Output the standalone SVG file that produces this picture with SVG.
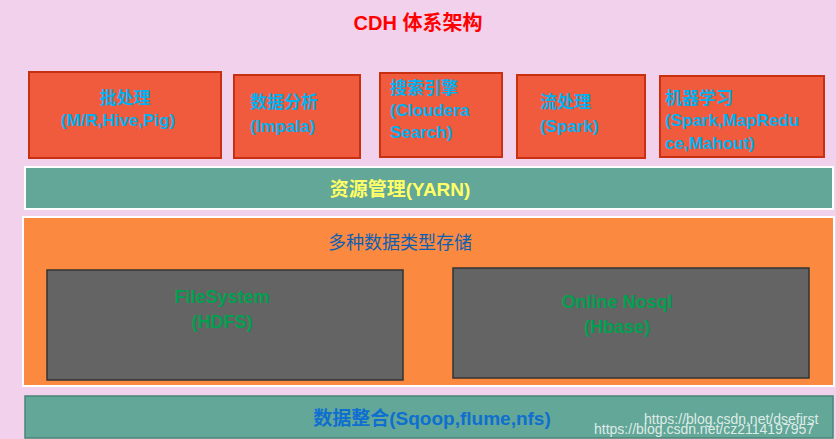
<svg xmlns="http://www.w3.org/2000/svg" width="836" height="439" viewBox="0 0 836 439">
<style>
.b{fill:#ef5b3c;stroke:#c8300f;stroke-width:2}
.bt{font-family:"Liberation Sans","Noto Sans CJK SC",sans-serif;font-size:17px;font-weight:bold;fill:#00b0f0}
.band{fill:#62a797;stroke:#fff;stroke-width:2}
.g{fill:#646464;stroke:#333;stroke-width:1.5}
.gt{font-family:"Liberation Sans","Noto Sans CJK SC",sans-serif;font-size:18px;font-weight:bold;fill:#00a050;text-anchor:middle}
.w{font-family:"Liberation Sans",sans-serif;font-size:14px;fill:#fff;fill-opacity:0.8}
</style>
<rect width="836" height="439" fill="#f2d1ec"/>
<text x="418" y="30" text-anchor="middle" font-family="Liberation Sans,Noto Sans CJK SC,sans-serif" font-size="20" font-weight="bold" fill="#ff0000">CDH 体系架构</text>
<g id="batch"><rect class="b" x="29" y="72" width="192" height="86"/><text class="bt" x="125" y="104" text-anchor="middle">批处理</text><text class="bt" x="118" y="126" text-anchor="middle">(M/R,Hive,Pig)</text></g>
<g id="analysis"><rect class="b" x="234" y="75" width="126" height="83"/><text class="bt" x="250" y="108">数据分析</text><text class="bt" x="250" y="132">(Impala)</text></g>
<g id="search"><rect class="b" x="380" y="73" width="122" height="84"/><text class="bt" x="390" y="94">搜索引擎</text><text class="bt" x="390" y="116">(Cloudera</text><text class="bt" x="390" y="138">Search)</text></g>
<g id="stream"><rect class="b" x="517" y="75" width="128" height="83"/><text class="bt" x="540" y="108">流处理</text><text class="bt" x="540" y="132">(Spark)</text></g>
<g id="ml"><rect class="b" x="660" y="76" width="164" height="81"/><text class="bt" x="665" y="104">机器学习</text><text class="bt" x="665" y="126">(Spark,MapRedu</text><text class="bt" x="665" y="149">ce,Mahout)</text></g>
<g id="yarn"><rect class="band" x="25" y="167" width="808" height="42"/><text x="400" y="196" text-anchor="middle" font-family="Liberation Sans,Noto Sans CJK SC,sans-serif" font-size="19" font-weight="bold" fill="#ffff66">资源管理(YARN)</text></g>
<g id="storage"><rect x="23" y="217" width="811" height="169" fill="#fb8a40" stroke="#fff" stroke-width="2"/><text x="400" y="249" text-anchor="middle" font-family="Liberation Sans,Noto Sans CJK SC,sans-serif" font-size="18" fill="#0f5fb0">多种数据类型存储</text>
<g id="hdfs"><rect class="g" x="47" y="270" width="356" height="110"/><text class="gt" x="222" y="303">FileSystem</text><text class="gt" x="222" y="328">(HDFS)</text></g>
<g id="hbase"><rect class="g" x="453" y="268" width="356" height="110"/><text class="gt" x="617" y="308">Online Nosql</text><text class="gt" x="617" y="333">(Hbase)</text></g></g>
<g id="integration"><rect x="25" y="396" width="808" height="42" fill="#62a797" stroke="#4a8577" stroke-width="1.5"/><text x="432" y="425" text-anchor="middle" font-family="Liberation Sans,Noto Sans CJK SC,sans-serif" font-size="19" font-weight="bold" fill="#0f6fd0">数据整合(Sqoop,flume,nfs)</text></g>
<g id="connectors"/>
<text class="w" x="644" y="424">https://blog.csdn.net/dsefirst</text>
<text class="w" x="594" y="434">https://blog.csdn.net/cz2114197957</text>
</svg>
